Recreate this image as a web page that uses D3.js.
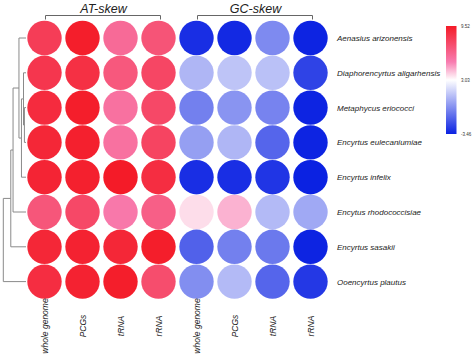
<!DOCTYPE html>
<html>
<head>
<meta charset="utf-8">
<script src="https://cdn.jsdelivr.net/npm/d3@7"></script>
<style>
  body { margin: 0; background: #fff; }
  text { font-family: "Liberation Sans", Arial, sans-serif; }
</style>
</head>
<body>
<svg id="chart" width="474" height="363"></svg>
<script>
var species = [
    'Aenasius arizonensis',
    'Diaphorencyrtus aligarhensis',
    'Metaphycus eriococci',
    'Encyrtus eulecaniumiae',
    'Encyrtus infelix',
    'Encytus rhodococcisiae',
    'Encyrtus sasakii',
    'Ooencyrtus plautus'
];

var regions = ['whole genome', 'PCGs', 'tRNA', 'rRNA'];

var groups = ['AT-skew', 'GC-skew'];

// one row per species, columns follow regions
var atSkew = [
    [8.0, 9.4, 6.0, 7.0],
    [8.3, 8.6, 6.8, 7.6],
    [8.8, 9.4, 5.7, 7.5],
    [9.0, 9.3, 5.7, 7.7],
    [9.1, 9.3, 9.5, 8.7],
    [6.9, 7.5, 5.4, 6.5],
    [9.0, 9.2, 9.0, 9.4],
    [8.7, 9.2, 9.4, 7.3]
];

var gcSkew = [
    [-3.1, -3.25, -0.4, -3.4],
    [0.9, 1.3, 1.2, -2.5],
    [-0.7, -0.1, -0.6, -3.4],
    [0.2, 0.9, -1.5, -3.4],
    [-3.1, -3.1, -2.9, -3.46],
    [3.6, 4.3, 1.0, 0.5],
    [-1.6, -0.7, -0.9, -3.4],
    [-0.3, 1.0, -1.5, -2.8]
];

var legendTicks = [9.52, 3.03, -3.46];

// clustering of the species (depth 0 = root, 1 = leaves)
var tree = {d: 0, children: [
    {d: 0.33, children: [
        {d: 0.43, children: [
            {d: 0.69, children: [
                {d: 1, name: species[0]},
                {d: 0.80, children: [
                    {d: 0.89, children: [
                        {d: 1, name: species[1]},
                        {d: 0.93, children: [
                            {d: 1, name: species[2]},
                            {d: 1, name: species[3]}
                        ]}
                    ]},
                    {d: 1, name: species[4]}
                ]}
            ]},
            {d: 1, name: species[5]}
        ]},
        {d: 1, name: species[6]}
    ]},
    {d: 1, name: species[7]}
]};

var svg = d3.select('#chart');

var columnKeys = [];
groups.forEach(function(g) {
    regions.forEach(function(r) { columnKeys.push(g + '|' + r); });
});

var x = d3.scaleBand().domain(columnKeys).range([25.5, 329.5]);
var y = d3.scaleBand().domain(species).range([20.6, 299]);

var color = d3.scaleLinear()
    .domain([-3.46, 3.03, 5.2, 9.52])
    .range(['#0b22e2', '#ffffff', '#f87cb0', '#f41b27'])
    .clamp(true);

var cells = [];
species.forEach(function(s, i) {
    regions.forEach(function(r, j) {
        cells.push({species: s, key: groups[0] + '|' + r, value: atSkew[i][j]});
        cells.push({species: s, key: groups[1] + '|' + r, value: gcSkew[i][j]});
    });
});

svg.append('g').attr('class', 'cells')
    .selectAll('circle')
    .data(cells)
    .enter()
    .append('circle')
    .attr('cx', function(d) { return x(d.key) + x.bandwidth() / 2; })
    .attr('cy', function(d) { return y(d.species) + y.bandwidth() / 2; })
    .attr('r', 17.2)
    .attr('fill', function(d) { return color(d.value); });

// row labels
svg.append('g').attr('class', 'row-labels')
    .selectAll('text')
    .data(species)
    .enter()
    .append('text')
    .attr('x', 337)
    .attr('y', function(d) { return y(d) + y.bandwidth() / 2 + 3; })
    .attr('font-size', 8)
    .attr('font-style', 'italic')
    .attr('fill', '#222')
    .text(function(d) { return d; });

// column labels
svg.append('g').attr('class', 'col-labels')
    .selectAll('text')
    .data(columnKeys)
    .enter()
    .append('text')
    .attr('transform', function(d) {
        return 'translate(' + (x(d) + x.bandwidth() / 2 + 3) + ',326) rotate(-90)';
    })
    .attr('text-anchor', 'middle')
    .attr('font-size', 8.5)
    .attr('font-style', 'italic')
    .attr('fill', '#222')
    .text(function(d) { return d.split('|')[1]; });

// group headers with brackets
var header = svg.append('g').attr('class', 'headers')
    .selectAll('g')
    .data(groups)
    .enter()
    .append('g');

header.append('path')
    .attr('fill', 'none')
    .attr('stroke', '#666')
    .attr('stroke-width', 1)
    .attr('d', function(g) {
        var x0 = x(g + '|' + regions[0]) + x.bandwidth() / 2 + 1;
        var x1 = x(g + '|' + regions[regions.length - 1]) + x.bandwidth() / 2 + 2;
        return 'M' + x0 + ',19.5V15.5H' + x1 + 'V19.5';
    });

header.append('text')
    .attr('x', function(g) {
        var x0 = x(g + '|' + regions[0]);
        var x1 = x(g + '|' + regions[regions.length - 1]) + x.bandwidth();
        return (x0 + x1) / 2 + 2;
    })
    .attr('y', 13)
    .attr('text-anchor', 'middle')
    .attr('font-size', 12.5)
    .attr('font-style', 'italic')
    .attr('fill', '#222')
    .text(function(g) { return g; });

// dendrogram
var root = d3.hierarchy(tree);
var depthX = d3.scaleLinear().domain([0, 1]).range([3.3, 26]);

root.eachAfter(function(n) {
    n.px = depthX(n.data.d);
    if (n.children) {
        n.py = d3.mean(n.children, function(c) { return c.py; });
    } else {
        n.py = y(n.data.name) + y.bandwidth() / 2;
    }
});

svg.append('g').attr('class', 'dendrogram')
    .selectAll('path')
    .data(root.descendants().filter(function(n) { return n.parent; }))
    .enter()
    .append('path')
    .attr('fill', 'none')
    .attr('stroke', '#8a8a8a')
    .attr('stroke-width', 1)
    .attr('d', function(n) {
        return 'M' + n.parent.px + ',' + n.parent.py + 'V' + n.py + 'H' + n.px;
    });

// colour legend
var legendY = d3.scaleLinear().domain([-3.46, 9.52]).range([134, 26]);

var grad = svg.append('defs').append('linearGradient')
    .attr('id', 'legend-grad')
    .attr('x1', 0).attr('y1', 1).attr('x2', 0).attr('y2', 0);

color.domain().forEach(function(v, i) {
    grad.append('stop')
        .attr('offset', (v - -3.46) / (9.52 - -3.46))
        .attr('stop-color', color.range()[i]);
});

svg.append('rect')
    .attr('x', 446)
    .attr('y', legendY(9.52))
    .attr('width', 10.5)
    .attr('height', legendY(-3.46) - legendY(9.52))
    .attr('fill', 'url(#legend-grad)');

svg.append('g').attr('class', 'legend-ticks')
    .selectAll('text')
    .data(legendTicks)
    .enter()
    .append('text')
    .attr('x', 461)
    .attr('y', function(d) { return legendY(d) + 1.5; })
    .attr('font-size', 4.5)
    .attr('fill', '#333')
    .text(function(d) { return d.toFixed(2); });
</script>
</body>
</html>
